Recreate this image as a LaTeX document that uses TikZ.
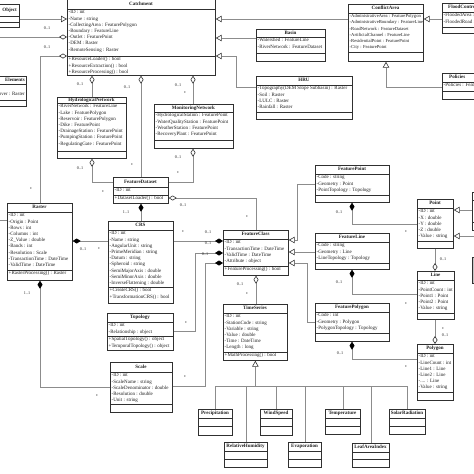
\documentclass[tikz,border=0pt]{standalone}
\usepackage{fontspec}
\setmainfont{Liberation Serif}
\usetikzlibrary{arrows.meta}
\definecolor{bc}{HTML}{303030}
\definecolor{lc}{HTML}{8C8C8C}
\definecolor{tc}{HTML}{202020}
\tikzset{
 cls/.style={draw=bc, line width=0.7pt, fill=white, inner sep=0pt},
 sepl/.style={draw=bc, line width=0.6pt},
 ttl/.style={font=\fontsize{5}{6}\selectfont\bfseries, inner sep=0pt, text height=3.4pt, text depth=0.9pt, text=tc},
 attr/.style={font=\fontsize{5}{6.2}\selectfont, align=left, inner sep=0pt, anchor=north west, text=tc},
 conn/.style={draw=lc, line width=0.6pt},
 gen/.style={conn, -{Triangle[open, length=6pt, width=6.5pt, fill=white, color=bc]}},
 agg/.style={conn, -{Diamond[open, length=8pt, width=5pt, fill=white, color=bc]}},
 comp/.style={conn, -{Diamond[length=8pt, width=5pt, color=black]}},
 mult/.style={font=\fontsize{4.2}{5}\selectfont, text=tc, inner sep=0pt},
}
% #1 name, #2 x1, #3 y1, #4 x2, #5 y2, #6 sep1, #7 sep2, #8 title
\newcommand\ucls[8]{%
 \node[cls, anchor=north west, minimum width={(#4)*1pt-(#2)*1pt}, minimum height={(#5)*1pt-(#3)*1pt}] (#1) at (#2,#3) {};
 \draw[sepl] (#2,#6) -- (#4,#6);
 \draw[sepl] (#2,#7) -- (#4,#7);
 \node[ttl] (#1-t) at ({(#2+#4)/2},{(#3+#6)/2}) {#8};
}
\newcommand\uattr[5][]{\node[attr,#1] (#2) at ({#3+1.5},{#4+1.3}) {#5};}
\begin{document}
\begin{tikzpicture}[x=1pt,y=-1pt]
\useasboundingbox (0,0) rectangle (474,474);
\clip (0,0) rectangle (474,474);
\fill[white] (0,0) rectangle (474,474);

% ---------- boxes ----------
\ucls{obj}{-40}{4}{19}{27}{16}{22}{}
\node[ttl, anchor=east] (obj-tt) at (17,10) {Object};

\ucls{catch}{67}{-1}{215}{75}{9}{56}{Catchment}
\uattr{catch-a}{67}{9}{-ID : int\\-Name : string\\-CollectingArea : FeaturePolygon\\-Boundary : FeatureLine\\-Outlet : FeaturePoint\\-DEM : Raster\\-RemoteSensing : Raster}
\uattr{catch-m}{67}{56}{+ResourceLoader() : bool\\+ResourceExtraction() : bool\\+ResourceProcessing() : bool}

\ucls{conf}{348}{4}{423}{61}{13}{52}{ConflictArea}
\uattr[font=\fontsize{4.6}{6.2}\selectfont]{conf-a}{348}{13}{-AdministrativeArea : FeaturePolygon\\-AdministrativeBoundary : FeatureLine\\-RoadNetwork : FeatureDataset\\-ArtificialChannel : FeatureLine\\-ResidentialPoint : FeaturePoint\\-City : FeaturePoint}

\ucls{flood}{442}{3}{500}{33}{12}{27}{}
\node[ttl, anchor=west] (flood-tt) at (448,7.5) {FloodControl};
\uattr{flood-a}{442}{12}{-FloodedArea : FeaturePolygon\\-FloodedRoad : FeatureLine}

\ucls{pol}{442}{73}{500}{99}{82}{91}{}
\node[ttl, anchor=west] (pol-tt) at (449,77.5) {Policies};
\uattr{pol-a}{442}{82}{-Policies : FeaturePolygon}

\ucls{basin}{256}{29}{325}{61}{37}{53}{Basin}
\uattr{basin-a}{256}{37}{-Watershed : FeatureLine\\-RiverNetwork : FeatureDataset}

\ucls{hru}{256}{76}{352}{119}{85}{112}{HRU}
\uattr{hru-a}{256}{85}{-Topography(DEM Slope Subbasin) : Raster\\-Soil : Raster\\-LULC : Raster\\-Rainfall : Raster}

\ucls{elem}{-30}{76}{26}{106}{84}{100}{}
\node[ttl, anchor=east] (elem-tt) at (25,80) {Elements};
\node[attr, anchor=east] (elem-a) at (25,94) {-Landcover : Raster};

\ucls{hyd}{57}{97}{126}{158}{103}{151}{HydrologicalNetwork}
\uattr{hyd-a}{57}{103}{-RiverNetwork : FeatureLine\\-Lake : FeaturePolygon\\-Reservoir : FeaturePolygon\\-Dike : FeaturePoint\\-DrainageStation : FeaturePoint\\-PumpingStation : FeaturePoint\\-RegulatingGate : FeaturePoint}

\ucls{mon}{154}{104}{233}{148}{112}{140}{MonitoringNetwork}
\uattr{mon-a}{154}{112}{-HydrologicalStation : FeaturePoint\\-WaterQualityStation : FeaturePoint\\-WeatherStation : FeaturePoint\\-RecoveryPlant : FeaturePoint}

\ucls{fd}{113}{177}{168}{203}{187}{195}{FeatureDataset}
\uattr{fd-a}{113}{187}{-ID : int}
\uattr{fd-m}{113}{195}{+DatasetLoader() : bool}

\ucls{raster}{7}{203}{72}{280}{212}{270}{Raster}
\uattr{raster-a}{7}{212}{-ID : int\\-Origin : Point\\-Rows : int\\-Columns : int\\-Z\_Value : double\\-Bands : int\\-Resolution : Scale\\-TransactionTime : DateTime\\-ValidTime : DateTime}
\uattr{raster-m}{7}{270}{+RasterProcessing() : Raster}

\ucls{crs}{108}{221}{173}{303}{230}{287}{CRS}
\uattr{crs-a}{108}{230}{-ID : int\\-Name : string\\-AngularUnit : string\\-PrimeMeridian : string\\-Datum : string\\-Spheroid : string\\-SemiMajorAxis : double\\-SemiMinorAxis : double\\-InverseFlattening : double}
\uattr{crs-m}{108}{287}{+CreateCRS() : bool\\+TransformationCRS() : bool}

\ucls{topo}{107}{313}{173}{350}{322}{336}{Topology}
\uattr{topo-a}{107}{322}{-ID : int\\-Relationship : object}
\uattr{topo-m}{107}{336}{+SpatialTopology() : object\\+TemporalTopology() : object}

\ucls{scale}{110}{362}{172}{412}{372}{404}{Scale}
\uattr{scale-a}{110}{372}{-ID : int\\-ScaleName : string\\-ScaleDenominator : double\\-Resolution : double\\-Unit : string}

\ucls{fc}{223}{230}{288}{275}{239}{266}{FeatureClass}
\uattr{fc-a}{223}{239}{-ID : int\\-TransactionTime : DateTime\\-ValidTime : DateTime\\-Attribute : object}
\uattr{fc-m}{223}{266}{+FeatureProcessing() : bool}

\ucls{ts}{223}{304}{287}{360}{313}{352}{TimeSeries}
\uattr{ts-a}{223}{313}{-ID : int\\-StationCode : string\\-Variable : string\\-Value : double\\-Time : DateTime\\-Length : long}
\uattr{ts-m}{223}{352}{+MathProcessing() : bool}

\ucls{fpt}{315}{165}{389}{202}{174}{195}{FeaturePoint}
\uattr{fpt-a}{315}{174}{-Code : string\\-Geometry : Point\\-PointTopology : Topology}
\ucls{fln}{315}{233}{389}{269}{242}{263}{FeatureLine}
\uattr{fln-a}{315}{242}{-Code : string\\-Geometry : Line\\-LineTopology : Topology}
\ucls{fpg}{315}{303}{389}{341}{312}{333}{FeaturePolygon}
\uattr{fpg-a}{315}{312}{-Code : int\\-Geometry : Polygon\\-PolygonTopology : Topology}

\ucls{pt}{417}{199}{453}{248}{208}{241}{Point}
\uattr{pt-a}{417}{208}{-ID : int\\-X : double\\-Y : double\\-Z : double\\-Value : string}
\ucls{ln}{417}{271}{454}{319}{280}{313}{Line}
\uattr{ln-a}{417}{280}{-ID : int\\-PointCount : int\\-Point1 : Point\\-Point2 : Point\\-Value : string}
\ucls{pg}{417}{344}{453}{400}{353}{392}{Polygon}
\uattr{pg-a}{417}{353}{-ID : int\\-LineCount : int\\-Line1 : Line\\-Line2 : Line\\-.... : Line\\-Value : string}

\ucls{rb1}{472}{192}{500}{230}{200}{222}{}
\node[cls, fill=gray!45, anchor=north west, minimum width=30pt, minimum height=26pt] (rb2) at (472,257) {};

% subclasses of TimeSeries
\ucls{prec}{198}{409}{232}{435}{418}{426}{Precipitation}
\ucls{wind}{260}{409}{292}{435}{418}{426}{WindSpeed}
\ucls{temp}{325}{409}{360}{434}{418}{426}{Temperature}
\ucls{solr}{389}{409}{425}{434}{418}{426}{SolarRadiation}
\ucls{relh}{224}{442}{267}{467}{451}{459}{RelativeHumidity}
\ucls{evap}{288}{442}{321}{467}{451}{459}{Evaporation}
\ucls{leaf}{352}{443}{389}{467}{452}{459}{LeafAreaIndex}

% free ends
\coordinate (offL) at (-5,37);
\coordinate (offL2) at (-5,220);
\coordinate (offR) at (480,236);

% ---------- generalizations ----------
\draw[gen] (obj.east |- 0,19) -- (catch.west |- 0,19);
\draw[gen] (conf.west |- 0,19) -- (catch.east |- 0,19);
\draw[gen] (basin.west |- 0,38) -- (catch.east |- 0,38);
\draw[gen] (hru.west |- 0,87) -- (236,87) -- (236,56) -- (catch.east |- 0,56);
\draw[gen] (flood.west |- 0,19) -- (conf.east |- 0,19);
\draw[gen] (pol.west |- 0,87) -- (386,87) -- (conf.south -| 386,0);
\draw[gen] (fpt.west |- 0,184) -- (297,184) -- (297,240) -- (fc.east |- 0,240);
\draw[gen] (fln.west |- 0,252) -- (fc.east |- 0,252);
\draw[gen] (fpg.west |- 0,322) -- (307,322) -- (307,263) -- (fc.east |- 0,263);
\draw[gen] (rb1.west |- 0,210) -- (pt.east |- 0,210);
\draw[gen] (offR) -- (pt.east |- 0,236);
\draw[conn] (prec.north |- 0,386) -- (solr.north |- 0,386);
\foreach \b in {prec,wind,temp,solr,relh,evap,leaf} {\draw[conn] (\b.north) -- (\b.north |- 0,386);}
\draw[gen] (ts.south |- 0,386) -- (ts.south);

% ---------- aggregations ----------
\draw[agg] (offL) -- (catch.west |- 0,37);
\draw[agg] (raster.north -| 40,0) -- (40,56) -- (catch.west |- 0,56);
\draw[agg] (hyd.north -| 92,0) -- (catch.south -| 92,0);
\draw[agg] (fd.north -| 141,0) -- (catch.south -| 141,0);
\draw[agg] (mon.north -| 193,0) -- (catch.south -| 193,0);
\draw[agg] (fd.west |- 0,182) -- (92,182) -- (hyd.south -| 92,0);
\draw[agg] (fd.east |- 0,182) -- (193,182) -- (mon.south -| 193,0);
\draw[agg] (fc.north -| 256,0) -- (256,198) -- (fd.east |- 0,198);
\draw[agg] (ts.north -| 256,0) -- (fc.south -| 256,0);
\draw[agg] (pt.south -| 435,0) -- (ln.north -| 435,0);
\draw[agg] (ln.south -| 435,0) -- (pg.north -| 435,0);

% ---------- compositions ----------
\draw[comp] (crs.west |- 0,241) -- (raster.east |- 0,241);
\draw[comp] (crs.north -| 141,0) -- (fd.south -| 141,0);
\draw[comp] (crs.east |- 0,241) -- (fc.west |- 0,241);
\draw[comp] (topo.east |- 0,331) -- (195,331) -- (195,253) -- (fc.west |- 0,253);
\draw[comp] (scale.east |- 0,386) -- (205,386) -- (205,263) -- (fc.west |- 0,263);
\draw[comp] (scale.west |- 0,387) -- (40,387) -- (raster.south -| 40,0);
\draw[comp] (pt.west |- 0,224) -- (352,224) -- (fpt.south -| 352,0);
\draw[comp] (ln.west |- 0,294) -- (352,294) -- (fln.south -| 352,0);
\draw[comp] (pg.west |- 0,359) -- (352,359) -- (fpg.south -| 352,0);
\draw[conn] (offL2) -- (raster.west |- 0,220);

% ---------- multiplicities ----------
\node[mult] (m1) at (47,28) {0..1};
\node[mult] (m2) at (47,47) {0..1};
\node[mult] (m3) at (80,84) {0..1};
\node[mult] (m4) at (127,87) {0..1};
\node[mult] (m5) at (178,85) {0..1};
\node[mult] (m6) at (185,93) {*};
\node[mult] (m7) at (80,168) {0..1};
\node[mult] (m8) at (103,192) {*};
\node[mult] (m9) at (132,165) {*};
\node[mult] (m10) at (31,189) {*};
\node[mult] (m11) at (178,157) {0..1};
\node[mult] (m12) at (178,173) {*};
\node[mult] (m13) at (183,205) {0..1};
\node[mult] (m14) at (247,217) {*};
\node[mult] (m15) at (126,212) {1..1};
\node[mult] (m16) at (83,249) {0..1};
\node[mult] (m17) at (99,249) {*};
\node[mult] (m18) at (183,232) {*};
\node[mult] (m19) at (208,232) {0..1};
\node[mult] (m20) at (208,243) {0..1};
\node[mult] (m21) at (205,254) {0..1};
\node[mult] (m22) at (186,323) {*};
\node[mult] (m23) at (185,377) {*};
\node[mult] (m24) at (27,293) {1..1};
\node[mult] (m25) at (97,396) {*};
\node[mult] (m26) at (240,284) {0..1};
\node[mult] (m27) at (247,294) {*};
\node[mult] (m28) at (339,212) {0..1};
\node[mult] (m29) at (406,232) {*};
\node[mult] (m30) at (339,282) {0..1};
\node[mult] (m31) at (406,304) {*};
\node[mult] (m32) at (340,353) {0..1};
\node[mult] (m33) at (406,367) {*};
\node[mult] (m34) at (443,259) {0..1};
\node[mult] (m35) at (443,329) {*};
\node[mult] (m36) at (445,335) {0..1};
\end{tikzpicture}
\end{document}
